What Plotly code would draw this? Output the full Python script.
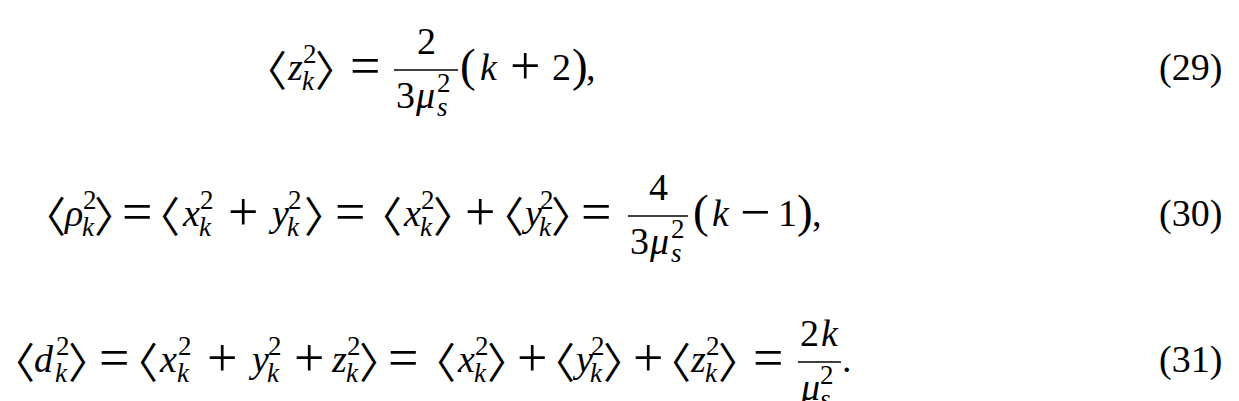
import plotly.graph_objects as go

W, H = 1239, 401

# ---------------- content (text only) ----------------
EQ_NUMBERS = ["(29)", "(30)", "(31)"]
LA, RA = "〈", "〉"

EQ29_TEXT = [LA, "z", "2", "k", RA, "=", "2", "3", "μ", "2", "s",
             "(", "k", "+", "2", ")", ","]
EQ29_ROLE = ["lbr", "var", "sup", "sub", "rbr", "op", "num", "den", "denvar", "densup", "densub",
             "par", "var", "op", "dig", "par", "pun"]

EQ30_TEXT = [LA, "ρ", "2", "k", RA, "=",
             LA, "x", "2", "k", "+", "y", "2", "k", RA, "=",
             LA, "x", "2", "k", RA, "+", LA, "y", "2", "k", RA, "=",
             "4", "3", "μ", "2", "s", "(", "k", "−", "1", ")", ","]
EQ30_ROLE = ["lbr", "var", "sup", "sub", "rbr", "op",
             "lbr", "var", "sup", "sub", "op", "var", "sup", "sub", "rbr", "op",
             "lbr", "var", "sup", "sub", "rbr", "op", "lbr", "var", "sup", "sub", "rbr", "op",
             "num", "den", "denvar", "densup", "densub", "par", "var", "op", "dig", "par", "pun"]

EQ31_TEXT = [LA, "d", "2", "k", RA, "=",
             LA, "x", "2", "k", "+", "y", "2", "k", "+", "z", "2", "k", RA, "=",
             LA, "x", "2", "k", RA, "+", LA, "y", "2", "k", RA, "+", LA, "z", "2", "k", RA, "=",
             "2", "k", "μ", "2", "s", "."]
EQ31_ROLE = ["lbr", "var", "sup", "sub", "rbr", "op",
             "lbr", "var", "sup", "sub", "op", "var", "sup", "sub", "op", "var", "sup", "sub", "rbr", "op",
             "lbr", "var", "sup", "sub", "rbr", "op", "lbr", "var", "sup", "sub", "rbr", "op",
             "lbr", "var", "sup", "sub", "rbr", "op",
             "num", "numvar", "denvar", "densup", "densub", "pun"]

# ---------------- layout (pixel positions: ink centres) ----------------
EQ29_X = [268, 287, 303, 301, 316, 357, 418, 397, 417, 436, 434,
          460, 481, 517, 553, 572, 583]
EQ30_X = [47, 65, 83, 81, 95, 129,
          161, 183, 200, 198, 235, 270, 288, 286, 305, 342,
          383, 404, 421, 419, 434, 472, 505, 523, 540, 538, 552, 588,
          650, 631, 651, 670, 668, 693, 713, 747, 779, 797, 809]
EQ31_X = [16, 36, 56, 54, 69, 106,
          139, 160, 178, 176, 214, 250, 268, 266, 301, 331, 347, 345, 360, 395,
          437, 458, 475, 473, 488, 524, 556, 574, 591, 589, 604, 640, 672, 690, 706, 704, 719, 760,
          801, 822, 802, 819, 817, 839]
BASELINES = [72, 218, 364]
BARS = [(386, 450), (620, 680), (790, 833)]
NUMBER_RIGHT = 1214

FAM = "Liberation Serif"
BR_FAM = "Noto Sans CJK JP"
ASC = {"Liberation Serif": 0.891, "Noto Sans CJK JP": 1.16}

# role -> (size, italic, family, baseline offset, x offset of box centre from ink centre)
ROLE_STYLE = {
    "lbr": (42, False, BR_FAM, 6, -10),
    "rbr": (42, False, BR_FAM, 6, 11.5),
    "var": (38, True, FAM, 0, 0),
    "dig": (38, False, FAM, 0, 0),
    "pun": (38, False, FAM, 0, 0),
    "sup": (27, False, FAM, -17, -1),
    "sub": (27, True, FAM, 10, -1),
    "op": (54, False, FAM, 4, 0),
    "par": (47, False, FAM, 1, 0),
    "num": (38, False, FAM, -26, 0),
    "numvar": (38, True, FAM, -26, 0),
    "den": (38, False, FAM, 28, 0),
    "denvar": (38, True, FAM, 28, 0),
    "densup": (27, False, FAM, 12, 0),
    "densub": (27, True, FAM, 36, 0),
}

fig = go.Figure()


def put(txt, cx, base, size, italic, family, anchor="center"):
    t = f"<i>{txt}</i>" if italic else txt
    fig.add_annotation(
        x=cx, y=base - ASC[family] * size, xref="x", yref="y",
        text=t, showarrow=False, xanchor=anchor, yanchor="top",
        font=dict(family=family, size=size, color="black"),
        borderpad=0, borderwidth=0,
    )


equations = [(EQ29_TEXT, EQ29_ROLE, EQ29_X), (EQ30_TEXT, EQ30_ROLE, EQ30_X), (EQ31_TEXT, EQ31_ROLE, EQ31_X)]
for (texts, roles, xs), base, (bx0, bx1), num in zip(equations, BASELINES, BARS, EQ_NUMBERS):
    for t, r, x in zip(texts, roles, xs):
        size, it, fam, dy, dx = ROLE_STYLE[r]
        put(t, x + dx, base + dy, size, it, fam)
    fig.add_shape(type="line", xref="x", yref="y", x0=bx0, x1=bx1, y0=base - 10, y1=base - 10,
                  line=dict(color="black", width=1.6))
    put(num, NUMBER_RIGHT, base, 38, False, FAM, anchor="right")

fig.update_layout(
    width=W, height=H, margin=dict(l=0, r=0, t=0, b=0),
    paper_bgcolor="white", plot_bgcolor="white", showlegend=False,
    xaxis=dict(range=[0, W], visible=False, fixedrange=True),
    yaxis=dict(range=[H, 0], visible=False, fixedrange=True),
)
fig.write_html("out.html", config={"displayModeBar": False})
